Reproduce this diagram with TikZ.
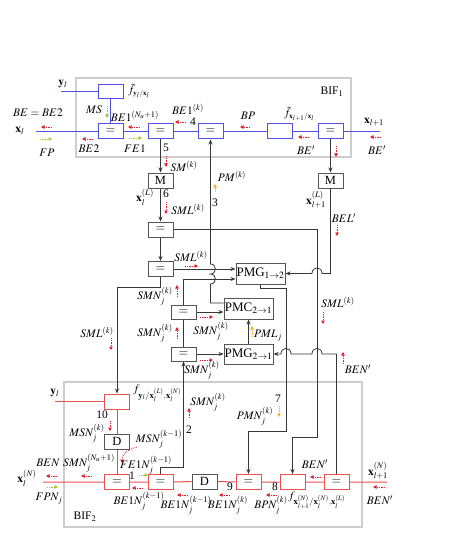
\documentclass[tikz,border=0pt]{standalone}
\usepackage{mathptmx}
\usepackage{fontspec}
\setmainfont{Liberation Serif}
\usetikzlibrary{arrows.meta}
\definecolor{cblue}{RGB}{80,80,225}
\definecolor{cred}{RGB}{235,80,80}
\definecolor{cgray}{RGB}{85,85,85}
\definecolor{cwire}{RGB}{55,55,55}
\definecolor{cframe}{RGB}{205,205,205}
\definecolor{sred}{RGB}{225,30,45}
\definecolor{sgreen}{RGB}{160,200,40}
\definecolor{sorange}{RGB}{245,175,40}
\tikzset{
  bx/.style={draw, fill=white, line width=1pt, minimum width=25pt, minimum height=15pt, inner sep=0pt, font=\fontsize{12.5}{13}\selectfont},
  bl/.style={bx, draw=cblue},
  rd/.style={bx, draw=cred},
  gr/.style={bx, draw=cgray},
  big/.style={gr, minimum width=49pt, minimum height=21pt, font=\fontsize{13}{14}\selectfont},
  lab/.style={inner sep=0pt, font=\fontsize{11.5}{13}\selectfont},
  wire/.style={line width=0.8pt, draw=cwire},
  arr/.style={wire, -{Stealth[length=5pt,width=4pt]}},
  bwire/.style={line width=1pt, draw=cblue},
  rwire/.style={line width=1pt, draw=cred},
  frame/.style={line width=1.5pt, draw=cframe},
  sig/.style={densely dotted, line width=0.8pt, -{Triangle[length=3.5pt,width=3.5pt]}}
}
\newcommand{\sg}[3]{\draw[sig,#1] (#2) -- (#3);}
\begin{document}
\begin{tikzpicture}[x=1pt,y=-1pt]
\useasboundingbox (0,0) rectangle (474,540);
\fill[white] (0,0) rectangle (474,540);
% frames
\draw[frame] (76,78) rectangle (351,157);
\draw[frame] (64,382) rectangle (362,527);
\node[lab] at (332,92) {BIF$_1$};
\node[lab] at (85,517) {BIF$_2$};
% BIF1 nodes
\node[bl, minimum height=14pt] (fy) at (110.5,92) {};
\node[bl] (e1) at (110.5,131.5) {$=$};
\node[bl] (e2) at (160.5,131.5) {$=$};
\node[bl] (e3) at (210.5,131.5) {$=$};
\node[bl] (ft) at (279.5,131.5) {};
\node[bl] (e4) at (330.5,131.5) {$=$};
% middle nodes
\node[gr] (M1) at (160.5,180.5) {M};
\node[gr] (M2) at (330.5,180.5) {M};
\node[gr] (eqA) at (160.5,229.5) {$=$};
\node[gr] (eqB) at (160.5,269) {$=$};
\node[big] (PMG12) at (260.5,273.5) {PMG$_{1\to2}$};
\node[big] (PMC) at (248.5,308.5) {PMC$_{2\to1}$};
\node[big, minimum height=20pt] (PMG21) at (248.5,354) {PMG$_{2\to1}$};
\node[gr, minimum height=14pt] (eqC) at (183.5,312) {$=$};
\node[gr, minimum height=14pt] (eqD) at (183.5,354) {$=$};
% BIF2 nodes
\node[rd] (fyN) at (117,401.5) {};
\node[gr] (D1) at (117,441.5) {D};
\node[rd] (n1) at (117,482) {$=$};
\node[rd] (n2) at (160.5,482) {$=$};
\node[gr] (D2) at (204.5,481.5) {D};
\node[rd] (n3) at (248.5,482) {$=$};
\node[rd] (fN) at (292.5,482) {};
\node[rd] (n4) at (336.5,482) {$=$};
% free ends
\coordinate (xL) at (36,131.5);
\coordinate (xR) at (380,131.5);
\coordinate (yL) at (61,92);
\coordinate (xNL) at (43,482);
\coordinate (xNR) at (387,482);
\coordinate (yNL) at (55,401.5);
% BIF1 wires
\draw[bwire] (xL) -- (e1) -- (e2) -- (e3) -- (ft) -- (e4) -- (xR);
\draw[bwire] (yL) -- (fy);
\draw[bwire] (fy) -- (e1);
% BIF2 wires
\draw[rwire] (xNL) -- (n1) -- (n2) -- (D2) -- (n3) -- (fN) -- (n4) -- (xNR);
\draw[rwire] (yNL) -- (fyN);
\draw[rwire] (fyN) -- (D1) -- (n1);
% middle wires
\draw[arr] (e2) -- (M1);
\draw[arr] (e4) -- (M2);
\draw[arr] (M1) -- (eqA);
\draw[arr] (eqA) -- (eqB);
\draw[arr] (eqA.east) -| (317,437) -| (fN.north);
\draw[arr] (M2.south) -- (330.5,273.5) -- (322,273.5) .. controls (322,266) and (312,266) .. (312,273.5) -- (PMG12.east);
\draw[arr] (eqB.east) -- (PMG12.west |- eqB.east);
\draw[arr] (eqC.north) |- ([yshift=-5.5pt]PMG12.west);
\draw[arr] (eqB.south) |- (117,287) -- (fyN.north);
\draw[arr] ([yshift=5.5pt]PMC.west) -- (210.5,303) -- (210.5,284) .. controls (217,284) and (217,274) .. (210.5,274) .. controls (217,274) and (217,264) .. (210.5,264) -- (e3.south);
\draw[arr] (eqC.east) -- (PMC.west |- eqC.east);
\draw[arr] (PMG21.north) -- (PMC.south);
\draw[arr] (eqD.east) -- (PMG21.west);
\draw[wire] (eqD.north) -- (eqC.south);
\draw[arr] (n2.north) |- (183.5,467) -- (eqD.south);
\draw[arr] (PMG12.south) |- (286,288) |- (248.5,431) -- (n3.north);
\draw[arr] (n4.north) -- (336.5,354) -- (322,354) .. controls (322,346.5) and (312,346.5) .. (312,354) -- (291,354) .. controls (291,346.5) and (281,346.5) .. (281,354) -- (PMG21.east);
% signal arrows BIF1
\sg{sred}{52,127}{41,127}
\sg{sgreen}{40,139}{52,139}
\sg{sred}{93,139}{82,139}
\sg{sgreen}{107,106}{107,118}
\sg{sred}{140,127}{128,127}
\sg{sgreen}{129,138}{142,138}
\sg{sred}{186,122}{175,122}
\sg{sred}{250,127}{240,127}
\sg{sred}{309,137}{298,137}
\sg{sred}{381,137}{370,137}
\sg{sred}{336,146}{336,157}
\sg{sred}{166,156}{166,167}
\sg{sorange}{215,192}{215,184}
\sg{sred}{166,202}{166,214}
\sg{sred}{337,225}{337,236}
\sg{sred}{185,266}{198,266}
\sg{sred}{177,297}{177,285}
\sg{sred}{177,339}{177,327}
\sg{sred}{200,317}{213,317}
\sg{sred}{200,360}{213,360}
\sg{sorange}{252,337}{252,326}
\sg{sred}{111,338}{111,350}
\sg{sred}{323,312}{323,324}
\sg{sred}{343,364}{343,352}
% signal arrows BIF2
\sg{sred}{110,421}{110,431}
\draw[sig,sred] (137,447) .. controls (126,450) and (122,455) .. (122,463);
\sg{sred}{92,476}{81,476}
\sg{sred}{57,476}{46,476}
\sg{sgreen}{47,487}{58,487}
\sg{sgreen}{139,475}{148,475}
\sg{sred}{143,488}{132,488}
\sg{sred}{188,495}{177,495}
\sg{sred}{230,495}{219,495}
\sg{sred}{277,495}{266,495}
\sg{sred}{321,477}{310,477}
\sg{sred}{385,487}{373,487}
\sg{sorange}{279,406}{279,417}
\sg{sred}{189,418}{189,408}
% labels BIF1
\node[lab] at (63,84) {$\mathbf{y}_l$};
\node[lab, anchor=west] at (128,91) {$\tilde f_{\scriptscriptstyle\mathbf{y}_l/\mathbf{x}_l}$};
\node[lab] at (38,113) {$BE=BE2$};
\node[lab] at (94,110) {$MS$};
\node[lab] at (135,116) {$BE1^{(N_u+1)}$};
\node[lab] at (188,109) {$BE1^{(k)}$};
\node[lab] at (193,122) {4};
\node[lab] at (248,116) {$BP$};
\node[lab, anchor=west] at (284,114) {$\tilde f_{\scriptscriptstyle\mathbf{x}_{l+1}/\mathbf{x}_l}$};
\node[lab] at (374,122) {$\mathbf{x}_{l+1}$};
\node[lab] at (20,131) {$\mathbf{x}_l$};
\node[lab] at (47,153) {$FP$};
\node[lab] at (89,149) {$BE2$};
\node[lab] at (135,149) {$FE1$};
\node[lab] at (306,150) {$BE'$};
\node[lab] at (377,150) {$BE'$};
\node[lab] at (166,148) {5};
\node[lab] at (184,166) {$SM^{(k)}$};
\node[lab] at (232,176) {$PM^{(k)}$};
\node[lab] at (215,203) {3};
\node[lab] at (166,194) {6};
\node[lab] at (145,197) {$\mathbf{x}_l^{(L)}$};
\node[lab] at (188,209) {$SML^{(k)}$};
\node[lab] at (316,200) {$\mathbf{x}_{l+1}^{(L)}$};
\node[lab] at (344,218) {$BEL'$};
\node[lab] at (191,256) {$SML^{(k)}$};
\node[lab] at (155,296) {$SMN_j^{(k)}$};
\node[lab] at (155,333) {$SMN_j^{(k)}$};
\node[lab] at (211,331) {$SMN_j^{(k)}$};
\node[lab] at (202,370) {$SMN_j^{(k)}$};
\node[lab] at (97,332) {$SML^{(k)}$};
\node[lab] at (338,302) {$SML^{(k)}$};
\node[lab] at (268,336) {$PML_j$};
\node[lab] at (358,369) {$BEN'$};
% labels BIF2
\node[lab] at (189,430) {2};
\node[lab] at (208,402) {$SMN_j^{(k)}$};
\node[lab] at (278,399) {7};
\node[lab] at (255,416) {$PMN_j^{(k)}$};
\node[lab] at (55,393) {$\mathbf{y}_l$};
\node[lab, anchor=west] at (133,393) {$f_{\mathbf{y}_l/\mathbf{x}_l^{(L)},\mathbf{x}_l^{(N)}}$};
\node[lab] at (102,415) {10};
\node[lab] at (87,433) {$MSN_j^{(k)}$};
\node[lab] at (159,439) {$MSN_j^{(k-1)}$};
\node[lab] at (48,463) {$BEN$};
\node[lab] at (89,463) {$SMN_j^{(N_u+1)}$};
\node[lab] at (146,465) {$FE1N_j^{(k-1)}$};
\node[lab] at (27,478) {$\mathbf{x}_l^{(N)}$};
\node[lab] at (49,499) {$FPN_j$};
\node[lab] at (132,476) {1};
\node[lab] at (139,501) {$BE1N_j^{(k-1)}$};
\node[lab] at (186,505) {$BE1N_j^{(k-1)}$};
\node[lab] at (228,505) {$BE1N_j^{(k)}$};
\node[lab] at (230,487) {9};
\node[lab] at (275,487) {8};
\node[lab] at (271,505) {$BPN_j^{(k)}$};
\node[lab] at (317,500) {$f_{\mathbf{x}_{l+1}^{(N)}/\mathbf{x}_l^{(N)},\mathbf{x}_l^{(L)}}$};
\node[lab] at (315,464) {$BEN'$};
\node[lab] at (378,471) {$\mathbf{x}_{l+1}^{(N)}$};
\node[lab] at (380,500) {$BEN'$};
\end{tikzpicture}
\end{document}
